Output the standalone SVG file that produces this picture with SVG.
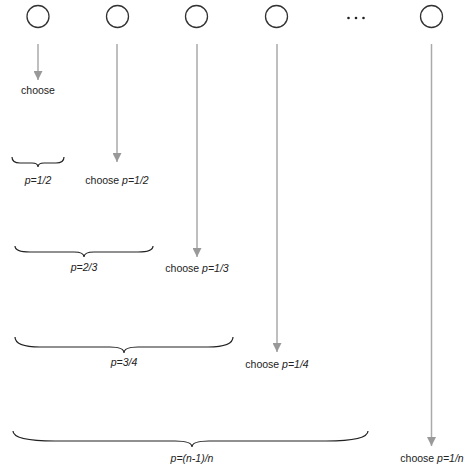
<svg xmlns="http://www.w3.org/2000/svg" width="474" height="472" viewBox="0 0 474 472">
<style>
.node{fill:#fff;stroke:#333;stroke-width:1.3}
.conn{stroke:#aaa;stroke-width:1.5;fill:none}
.brace{fill:none;stroke:#222;stroke-width:1.2}
text{font-family:"Liberation Sans",Arial,sans-serif;font-size:10.5px;fill:#222;text-anchor:middle}
.i{font-style:italic}
</style>
<defs>
<marker id="ah" viewBox="0 0 10 10" refX="10" refY="5" markerWidth="9" markerHeight="9" markerUnits="userSpaceOnUse" orient="auto">
<path d="M0,0 L10,5 L0,10 z" fill="#999"/>
</marker>
</defs>
<rect width="474" height="472" fill="#fff"/>
<g id="n1"><circle class="node" cx="38" cy="16.5" r="11"/></g>
<g id="n2"><circle class="node" cx="117.5" cy="16.5" r="11"/></g>
<g id="n3"><circle class="node" cx="196.5" cy="16.5" r="11"/></g>
<g id="n4"><circle class="node" cx="276.5" cy="16.5" r="11"/></g>
<g id="dots" fill="#222"><circle cx="348.5" cy="18" r="1.3"/><circle cx="356" cy="18" r="1.3"/><circle cx="363.5" cy="18" r="1.3"/></g>
<g id="n5"><circle class="node" cx="431.5" cy="16.5" r="11"/></g>
<g id="connectors">
<line class="conn" x1="38" y1="44" x2="38" y2="80" marker-end="url(#ah)"/>
<line class="conn" x1="117" y1="44" x2="117" y2="162" marker-end="url(#ah)"/>
<line class="conn" x1="197" y1="44" x2="197" y2="257" marker-end="url(#ah)"/>
<line class="conn" x1="277" y1="44" x2="277" y2="352" marker-end="url(#ah)"/>
<line class="conn" x1="431.5" y1="44" x2="431.5" y2="446" marker-end="url(#ah)"/>
</g>
<g id="labels">
<text x="38" y="94">choose</text>
<text x="117" y="184">choose <tspan class="i">p=1/2</tspan></text>
<text x="197" y="272">choose <tspan class="i">p=1/3</tspan></text>
<text x="277" y="368">choose <tspan class="i">p=1/4</tspan></text>
<text x="432" y="462">choose <tspan class="i">p=1/n</tspan></text>
</g>
<g id="braces">
<path class="brace" d="M12,157 Q12,163 20,163 L32,163 Q38,163 38,167 Q38,163 44,163 L56,163 Q64,163 64,157"/>
<text class="i" x="38" y="184">p=1/2</text>
<path class="brace" d="M15,246 Q15,252 30,252 L74,252 Q84,252 84,257 Q84,252 94,252 L138,252 Q153,252 153,246"/>
<text class="i" x="84" y="271">p=2/3</text>
<path class="brace" d="M15,337 Q15,347 40,347 L110,347 Q124,347 124,353 Q124,347 138,347 L208,347 Q233,347 233,337"/>
<text class="i" x="124" y="366">p=3/4</text>
<path class="brace" d="M13,431 Q13,441 55,441 L175,441 Q192,441 192,447 Q192,441 209,441 L326,441 Q368,441 368,431"/>
<text class="i" x="192" y="462">p=(n-1)/n</text>
</g>
</svg>
